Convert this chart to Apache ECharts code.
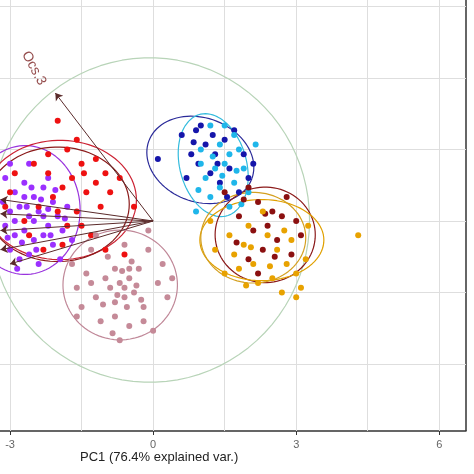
<!DOCTYPE html><html><head><meta charset="utf-8">
<script src="https://cdn.jsdelivr.net/npm/echarts@6/dist/echarts.min.js"></script>
<style>html,body{margin:0;padding:0;background:#fff}#c{width:474px;height:474px}</style></head><body><div id="c"></div>
<script>
const xTicks=[-3,0,3,6];
const purple=[[-3.1,0.9],[-2.9,0.6],[-2.7,0.8],[-2.5,0.5],[-2.3,0.7],[-2.1,0.4],[-2.0,0.1],[-2.2,-0.1],[-2.4,0.2],[-2.6,0.1],[-2.8,0.3],[-3.0,0.2],[-3.1,-0.1],[-2.9,-0.3],[-2.7,-0.2],[-2.5,-0.4],[-2.3,-0.3],[-2.1,-0.5],[-1.9,-0.2],[-1.8,0.3],[-2.6,-0.7],[-2.8,-0.8],[-3.0,-0.6],[-2.4,-0.9],[-2.2,0.9],[-2.6,1.2],[-3.0,1.2],[-1.7,-0.4],[-2.9,0.0],[-2.5,0.0],[-2.3,0.1],[-2.7,0.5],[-3.15,0.4],[-2.05,0.65],[-2.45,-0.6],[-2.85,-1.0],[-1.95,-0.8],[-2.75,-0.45],[-2.35,0.45],[-3.05,-0.35],[-2.2,0.25],[-2.65,0.3],[-2.15,-0.3],[-2.55,0.7],[-1.85,0.05]];
const red=[[-2.0,2.1],[-2.5,1.2],[-2.2,1.0],[-1.8,1.5],[-1.6,1.7],[-1.2,1.3],[-1.5,1.2],[-1.0,1.0],[-1.7,0.9],[-1.9,0.7],[-2.1,0.5],[-1.4,0.6],[-1.1,0.3],[-0.7,0.9],[-0.4,0.3],[-1.6,0.2],[-1.8,-0.1],[-2.4,0.3],[-2.7,0.0],[-3.0,0.6],[-1.3,-0.3],[-1.9,-0.5],[-2.3,-0.6],[-2.6,-0.3],[-1.0,-0.6],[-0.9,0.6],[-2.2,1.4],[-2.9,1.0],[-1.5,-0.1],[-0.6,-0.7],[-1.2,0.8],[-2.0,0.2],[-1.45,1.0],[-3.1,0.3]];
const pink=[[-0.7,-1.3],[-0.5,-1.2],[-0.9,-1.4],[-0.6,-1.6],[-0.8,-1.0],[-0.4,-1.5],[-1.0,-1.2],[-0.3,-1.0],[-1.2,-1.6],[-0.2,-1.8],[-1.4,-1.1],[0.1,-1.3],[-1.6,-1.4],[0.2,-0.9],[-0.8,-2.0],[-0.5,-2.2],[-1.1,-2.1],[-0.2,-2.1],[-1.3,-0.6],[-0.6,-0.5],[-0.1,-0.6],[-1.5,-1.8],[0.3,-1.6],[-0.95,-0.75],[-0.65,-1.05],[-0.75,-1.55],[-0.45,-0.85],[-1.05,-1.75],[-0.35,-1.35],[-0.85,-2.35],[-1.6,-2.0],[0.0,-2.3],[-1.7,-0.9],[-0.1,-0.2],[-1.2,-0.3],[-0.7,-2.5],[0.4,-1.2],[-1.3,-1.3],[-0.55,-1.8],[-0.25,-1.65],[-0.6,-1.4],[-0.8,-1.7],[-0.5,-1.0]];
const darkBlue=[[0.1,1.3],[0.6,1.8],[0.8,1.4],[0.9,1.9],[0.95,1.2],[1.1,1.6],[1.2,1.0],[0.7,0.9],[1.3,1.4],[1.5,1.7],[1.6,1.1],[1.4,0.8],[1.9,1.4],[2.0,0.9],[1.7,1.9],[1.0,2.0],[1.25,1.8],[1.8,0.6],[1.35,1.2],[0.85,1.65],[1.55,0.5],[2.1,1.2]];
const lightBlue=[[1.2,2.0],[1.5,2.0],[1.7,1.8],[1.4,1.6],[1.0,1.5],[1.6,1.4],[1.8,1.5],[1.3,1.1],[1.5,1.2],[1.9,1.1],[1.1,0.9],[1.4,0.7],[1.7,0.8],[2.0,0.6],[1.2,0.5],[0.9,0.2],[1.6,0.3],[1.0,1.2],[1.75,1.05],[1.45,0.95],[1.25,1.35],[1.85,0.35],[0.95,0.65],[2.15,1.6]];
const maroon=[[1.5,0.6],[2.0,0.7],[2.2,0.4],[2.5,0.2],[2.8,0.5],[3.0,0.0],[2.4,-0.1],[2.1,-0.2],[1.8,0.1],[2.6,-0.4],[2.3,-0.6],[2.9,-0.7],[2.0,-0.8],[2.7,0.1],[2.2,-1.1],[2.55,-0.75],[1.75,-0.45],[2.35,0.15],[3.1,-0.3],[1.9,0.45]];
const orange=[[1.3,-0.6],[1.6,-0.3],[1.9,-0.5],[2.1,-0.9],[2.4,-0.3],[2.6,-0.6],[2.8,-0.9],[3.0,-1.1],[2.2,-1.3],[1.8,-1.0],[2.5,-1.2],[2.9,-0.4],[3.2,-0.8],[1.5,-1.1],[2.0,-0.1],[2.7,-1.5],[3.1,-1.4],[2.3,0.2],[1.2,0.0],[2.45,-0.95],[1.95,-1.35],[2.75,-0.2],[3.25,-0.1],[2.05,-0.55],[1.7,-0.7],[4.3,-0.3],[3.0,-1.6]];
// ellipses: [cx, cy, rx, ry, angleDeg, color]
const ellipses=[[-0.07,0.02,3.35,3.4,0,'#b8d4b8'],[-2.68,0.23,1.15,1.35,0,'#9933dd'],[-1.95,0.44,1.6,1.25,0,'#cc2233'],[-2.0,0.35,1.5,1.2,0,'#8b1a1a'],[-0.69,-1.34,1.2,1.15,0,'#c08898'],[0.99,1.28,1.15,0.88,-20,'#2a2a99'],[1.26,1.17,0.7,1.1,15,'#33bbdd'],[2.35,-0.29,1.05,1.0,0,'#8b1a1a'],[2.28,-0.4,1.3,0.85,0,'#e0a000'],[2.1,-0.35,1.1,0.95,0,'#d4a020']];
const arrows=[[-2.05,2.68],[-3.2,0.45],[-3.2,0.15],[-3.2,-0.2],[-3.2,-0.6],[-3.0,-0.9]];
const arrowLabel='Ocs.3';
const groups=[[purple,'#9b30ff'],[red,'#ee1111'],[pink,'#c58a98'],[darkBlue,'#1515aa'],[lightBlue,'#1fb6ea'],[maroon,'#8b1010'],[orange,'#e8a200']];
const series=[];
const gx=[-3,-1.5,0,1.5,3,4.5,6], gy=[-3,-1.5,0,1.5,3,4.5];
const Y0=-4.4,Y1=4.63,X0=-3.21,X1=6.56;
series.push({type:'lines',coordinateSystem:'cartesian2d',silent:true,z:1,lineStyle:{color:'#dedede',width:1,opacity:1},
 data:gx.map(v=>({coords:[[v,Y0],[v,Y1]]})).concat(gy.map(v=>({coords:[[X0,v],[X1,v]]})))});
ellipses.forEach(e=>{const pts=[];const a=e[4]*Math.PI/180;for(let i=0;i<=90;i++){const t=i/90*2*Math.PI;const x=e[2]*Math.cos(t),y=e[3]*Math.sin(t);pts.push([e[0]+x*Math.cos(a)-y*Math.sin(a),e[1]+x*Math.sin(a)+y*Math.cos(a)]);}
series.push({type:'line',data:pts,symbol:'none',lineStyle:{color:e[5],width:1.2},silent:true,z:3});});
groups.forEach(g=>series.push({type:'scatter',data:g[0],symbolSize:6,itemStyle:{color:g[1],opacity:1},z:4}));
series.push({type:'lines',coordinateSystem:'cartesian2d',data:arrows.map(p=>({coords:[[0,0],p]})),symbol:['none','arrow'],symbolSize:7,lineStyle:{color:'#5a2a2a',width:1,opacity:1},z:6});
series.push({type:'scatter',data:[[-2.5,3.2]],symbolSize:0,label:{show:true,formatter:arrowLabel,rotate:-62,color:'#7a2020',fontSize:14,fontFamily:'Liberation Sans'},z:7});
const chart=echarts.init(document.getElementById('c'));
chart.setOption({animation:false,
 grid:{left:0,right:8,top:0,bottom:43},
 title:{text:'PC1 (76.4% explained var.)',left:75,top:446,textStyle:{fontSize:13,fontWeight:'normal',color:'#222',fontFamily:'Liberation Sans'}},
 xAxis:{type:'value',min:X0,max:X1,axisLine:{onZero:false,lineStyle:{color:'#333',width:1.5}},splitLine:{show:false},
  axisTick:{customValues:xTicks,length:4,lineStyle:{color:'#333'}},axisLabel:{customValues:xTicks,color:'#666',fontSize:11,fontFamily:'Liberation Sans',showMinLabel:true,showMaxLabel:true}},
 yAxis:{type:'value',min:Y0,max:Y1,axisLine:{show:false},axisTick:{show:false},axisLabel:{show:false},splitLine:{show:false}},
 graphic:[{type:'line',shape:{x1:466,y1:0,x2:466,y2:431},style:{stroke:'#333',lineWidth:1.5}}],
 series});
</script></body></html>
